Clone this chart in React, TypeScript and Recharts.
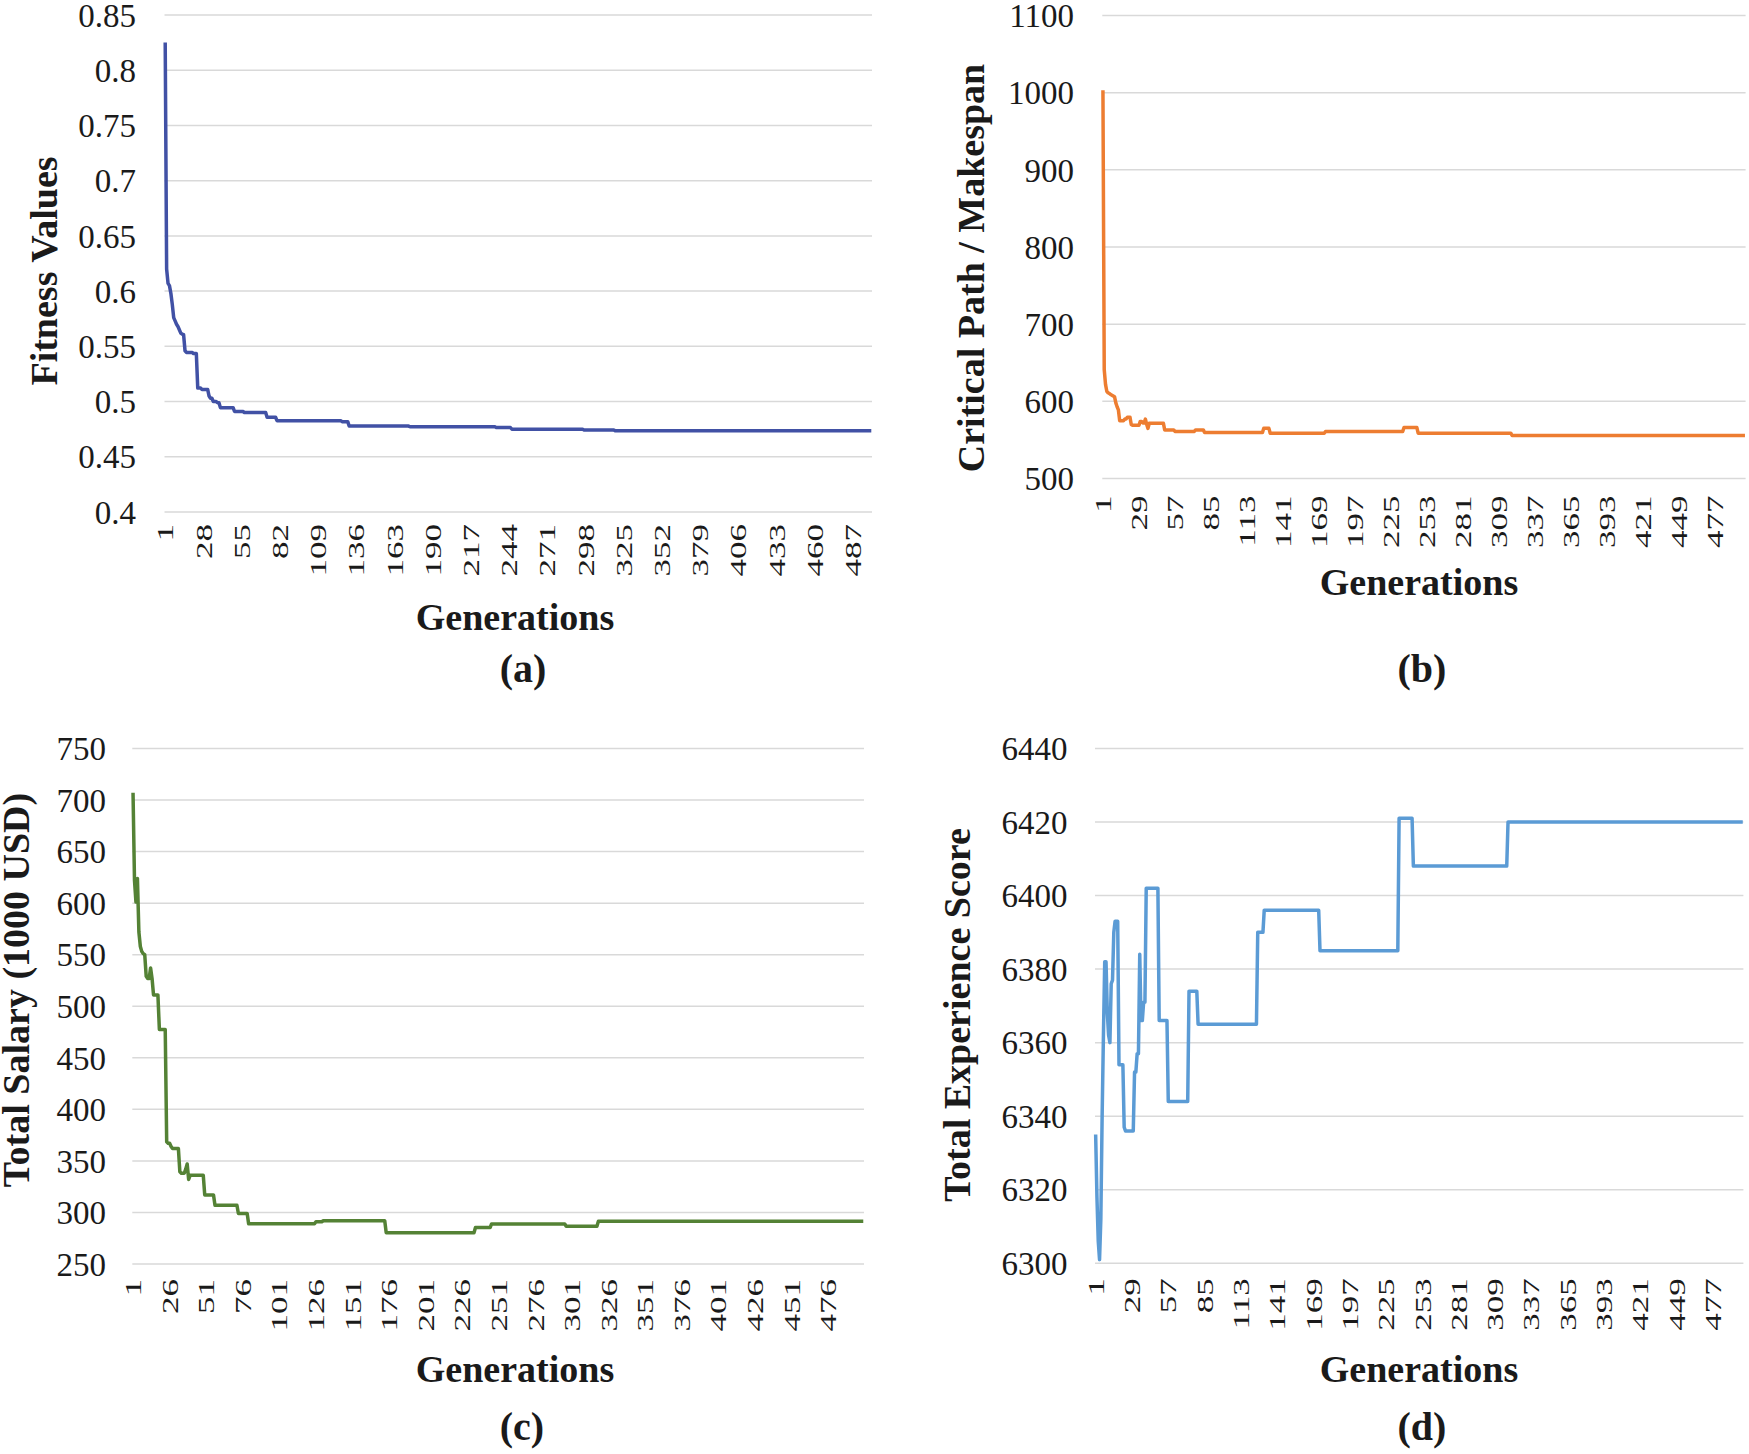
import React from 'react';
import { LineChart, Line, XAxis, YAxis, CartesianGrid } from 'recharts';

const FONT = '"Liberation Serif", "Times New Roman", Times, serif';
const TEXT = '#1a1a1a';
const LAST_GEN = 500;

// ---------- data: each series is a list of runs (generation where a value starts, value) ----------
const fitnessGens = [1, 2, 3, 4, 5, 6, 7, 8, 9, 10, 11, 12, 13, 14, 15, 16, 21, 24, 27, 32, 33, 35, 38, 40, 50, 57, 73, 80, 126, 131, 174, 235, 246, 297, 319];
const fitnessValues = [0.825, 0.62, 0.607, 0.605, 0.598, 0.588, 0.576, 0.573, 0.57, 0.568, 0.565, 0.562, 0.561, 0.5605, 0.546, 0.5445, 0.5435, 0.5122, 0.511, 0.505, 0.503, 0.5, 0.499, 0.4945, 0.491, 0.49, 0.4858, 0.4827, 0.4818, 0.4778, 0.4772, 0.4764, 0.475, 0.4743, 0.4735];

const makespanGens = [1, 2, 3, 4, 5, 6, 7, 8, 9, 10, 11, 12, 13, 14, 18, 20, 23, 24, 30, 32, 34, 35, 36, 37, 49, 57, 73, 80, 126, 131, 174, 235, 246, 319];
const makespanValues = [1003, 641, 622, 613, 611, 610, 609, 608, 607, 606, 598, 593, 589, 575, 577, 579.5, 570, 569, 574, 572, 577, 570, 565, 571.5, 563, 561, 563, 559.6, 565, 558.7, 561, 566, 558.7, 555.7];

const salaryGens = [1, 2, 3, 4, 5, 6, 7, 8, 9, 10, 11, 13, 14, 15, 19, 24, 25, 27, 28, 33, 34, 37, 38, 39, 40, 50, 57, 73, 80, 126, 131, 174, 235, 246, 297, 319];
const salaryValues = [707, 622, 601, 624, 572, 558, 553, 551, 550, 529, 527, 537, 527, 511, 477.5, 368.5, 367, 364, 362, 339.4, 338, 342, 347, 332, 336, 317, 307, 299, 289, 291, 292, 280.4, 285.3, 288.9, 286.6, 291.5];

const experienceGens = [1, 2, 3, 4, 5, 6, 7, 8, 10, 11, 12, 13, 14, 15, 16, 19, 23, 24, 31, 33, 35, 36, 38, 40, 50, 57, 73, 80, 126, 131, 174, 235, 246, 319];
const experienceValues = [6335, 6318, 6306, 6301, 6312, 6340, 6362, 6382, 6368, 6362, 6360, 6376, 6377, 6390, 6393, 6354, 6337, 6336, 6352, 6357, 6384, 6366, 6371, 6402, 6366, 6344, 6374, 6365, 6390, 6396, 6385, 6421, 6408, 6420];

// ---------- tick labels ----------
const fitnessXTicks = [1, 28, 55, 82, 109, 136, 163, 190, 217, 244, 271, 298, 325, 352, 379, 406, 433, 460, 487];
const makespanXTicks = [1, 29, 57, 85, 113, 141, 169, 197, 225, 253, 281, 309, 337, 365, 393, 421, 449, 477];
const salaryXTicks = [1, 26, 51, 76, 101, 126, 151, 176, 201, 226, 251, 276, 301, 326, 351, 376, 401, 426, 451, 476];
const experienceXTicks = [1, 29, 57, 85, 113, 141, 169, 197, 225, 253, 281, 309, 337, 365, 393, 421, 449, 477];

const fitnessYTicks = [0.4, 0.45, 0.5, 0.55, 0.6, 0.65, 0.7, 0.75, 0.8, 0.85];
const makespanYTicks = [500, 600, 700, 800, 900, 1000, 1100];
const salaryYTicks = [250, 300, 350, 400, 450, 500, 550, 600, 650, 700, 750];
const experienceYTicks = [6300, 6320, 6340, 6360, 6380, 6400, 6420, 6440];

// each run is drawn from its first to its last generation (constant value)
function buildSeries(gens: number[], vals: number[]) {
  const pts: { g: number; v: number }[] = [];
  gens.forEach((g, i) => {
    const end = i + 1 < gens.length ? gens[i + 1] - 1 : LAST_GEN;
    pts.push({ g, v: vals[i] });
    if (end > g) pts.push({ g: end, v: vals[i] });
  });
  return pts;
}

type Box = { left: number; top: number; width: number; height: number };
type Plot = { left: number; right: number; top: number; bottom: number };

type PanelProps = {
  box: Box;
  plot: Plot;
  data: { g: number; v: number }[];
  color: string;
  yTicks: number[];
  xTicks: number[];
  yFormat: (v: number) => string;
  yGap: number;
  xGap: number;
  yTitle: string;
  yTitleX: number;
  yTitleY: number;
  xTitleX: number;
  xTitleY: number;
  tag: string;
  tagX: number;
  tagY: number;
};

const XTick = (props: any) => {
  const { x, y, payload } = props;
  return (
    <text
      transform={`translate(${x},${y}) rotate(-90) scale(1,0.66)`}
      textAnchor="end"
      dy="0.35em"
      fontSize={35}
      fontFamily={FONT}
      fill={TEXT}
    >
      {payload.value}
    </text>
  );
};

function Panel(p: PanelProps) {
  const { box, plot } = p;
  const margin = {
    top: plot.top - box.top,
    right: box.left + box.width - plot.right,
    left: 0,
    bottom: 0,
  };
  const yAxisWidth = plot.left - box.left;
  const xAxisHeight = box.top + box.height - plot.bottom;
  const yx = p.yTitleX - box.left;
  const yy = p.yTitleY - box.top;

  return (
    <div style={{ position: 'absolute', left: box.left, top: box.top, width: box.width, height: box.height }}>
      <LineChart width={box.width} height={box.height} data={p.data} margin={margin}>
        <CartesianGrid vertical={false} stroke="#d9d9d9" strokeWidth={1.5} />
        <XAxis
          type="number"
          dataKey="g"
          domain={[0.5, LAST_GEN + 0.5]}
          ticks={p.xTicks}
          interval={0}
          axisLine={false}
          tickLine={false}
          tickSize={0}
          tickMargin={p.xGap}
          height={xAxisHeight}
          tick={(tp: any) => <XTick {...tp} />}
          label={() => (
            <g>
              <text
                x={p.xTitleX - box.left}
                y={p.xTitleY - box.top}
                textAnchor="middle"
                fontFamily={FONT}
                fontWeight="bold"
                fontSize={38}
                fill={TEXT}
              >
                Generations
              </text>
              <text
                x={p.tagX - box.left}
                y={p.tagY - box.top}
                textAnchor="middle"
                fontFamily={FONT}
                fontWeight="bold"
                fontSize={40}
                fill={TEXT}
              >
                {p.tag}
              </text>
            </g>
          )}
        />
        <YAxis
          type="number"
          domain={[p.yTicks[0], p.yTicks[p.yTicks.length - 1]]}
          ticks={p.yTicks}
          interval={0}
          axisLine={false}
          tickLine={false}
          tickSize={0}
          tickMargin={p.yGap}
          width={yAxisWidth}
          tickFormatter={p.yFormat}
          tick={{ fontSize: 33, fontFamily: FONT, fill: TEXT }}
          label={() => (
            <text
              x={yx}
              y={yy}
              transform={`rotate(-90 ${yx} ${yy})`}
              textAnchor="middle"
              fontFamily={FONT}
              fontWeight="bold"
              fontSize={38}
              fill={TEXT}
            >
              {p.yTitle}
            </text>
          )}
        />
        <Line
          type="linear"
          dataKey="v"
          stroke={p.color}
          strokeWidth={3.5}
          strokeLinejoin="round"
          dot={false}
          activeDot={false}
          isAnimationActive={false}
        />
      </LineChart>
    </div>
  );
}

const fmtFitness = (v: number) => String(Number(v.toFixed(2)));
const fmtInt = (v: number) => String(v);

export default function App() {
  return (
    <div
      style={{
        position: 'absolute',
        left: 0,
        top: 0,
        width: 1749,
        height: 1454,
        background: '#ffffff',
        overflow: 'hidden',
      }}
    >
      <Panel
        box={{ left: 0, top: 0, width: 880, height: 700 }}
        plot={{ left: 164.5, right: 872, top: 15, bottom: 512 }}
        data={buildSeries(fitnessGens, fitnessValues)}
        color="#4151a5"
        yTicks={fitnessYTicks}
        xTicks={fitnessXTicks}
        yFormat={fmtFitness}
        yGap={28.5}
        xGap={12}
        yTitle="Fitness Values"
        yTitleX={57}
        yTitleY={271}
        xTitleX={515}
        xTitleY={630}
        tag="(a)"
        tagX={523}
        tagY={682}
      />
      <Panel
        box={{ left: 880, top: 0, width: 869, height: 700 }}
        plot={{ left: 1102.3, right: 1745.6, top: 15.5, bottom: 478.5 }}
        data={buildSeries(makespanGens, makespanValues)}
        color="#ed7d31"
        yTicks={makespanYTicks}
        xTicks={makespanXTicks}
        yFormat={fmtInt}
        yGap={28.3}
        xGap={17}
        yTitle="Critical Path / Makespan"
        yTitleX={984}
        yTitleY={268}
        xTitleX={1419}
        xTitleY={594.5}
        tag="(b)"
        tagX={1422}
        tagY={682}
      />
      <Panel
        box={{ left: 0, top: 700, width: 880, height: 754 }}
        plot={{ left: 132.3, right: 864, top: 748.5, bottom: 1264 }}
        data={buildSeries(salaryGens, salaryValues)}
        color="#548235"
        yTicks={salaryYTicks}
        xTicks={salaryXTicks}
        yFormat={fmtInt}
        yGap={26.3}
        xGap={15}
        yTitle="Total Salary (1000 USD)"
        yTitleX={29}
        yTitleY={990}
        xTitleX={515}
        xTitleY={1382}
        tag="(c)"
        tagX={522}
        tagY={1439.5}
      />
      <Panel
        box={{ left: 880, top: 700, width: 869, height: 754 }}
        plot={{ left: 1095, right: 1743.4, top: 748.4, bottom: 1263.3 }}
        data={buildSeries(experienceGens, experienceValues)}
        color="#5b9bd5"
        yTicks={experienceYTicks}
        xTicks={experienceXTicks}
        yFormat={fmtInt}
        yGap={27.5}
        xGap={15}
        yTitle="Total Experience Score"
        yTitleX={970}
        yTitleY={1015}
        xTitleX={1419}
        xTitleY={1382}
        tag="(d)"
        tagX={1422}
        tagY={1439.5}
      />
    </div>
  );
}
